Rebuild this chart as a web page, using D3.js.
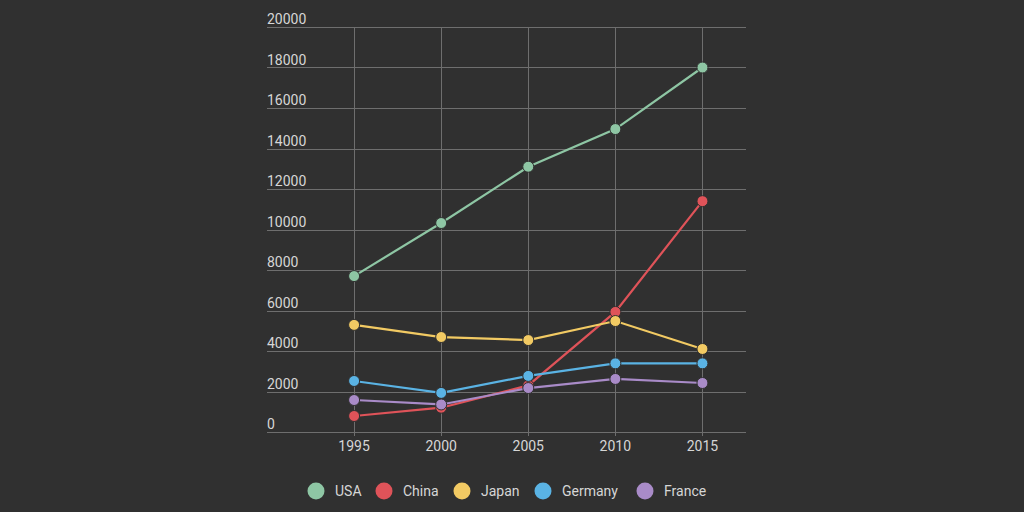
<!DOCTYPE html>
<html><head><meta charset="utf-8">
<script src="https://cdn.jsdelivr.net/npm/d3@7"></script>
<style>
html,body{margin:0;padding:0;background:#303030;}
svg{display:block;font-family:Roboto,"Noto Sans",sans-serif;}
</style></head>
<body><svg id="c" width="1024" height="512"></svg>
<script>
const years = [1995, 2000, 2005, 2010, 2015];
const seriesNames = ["USA", "China", "Japan", "Germany", "France"];
const usa = [7700, 10320, 13100, 14960, 18000];
const china = [790, 1200, 2300, 5930, 11400];
const japan = [5290, 4690, 4540, 5480, 4100];
const germany = [2520, 1930, 2770, 3390, 3390];
const france = [1580, 1360, 2170, 2620, 2420];
const yTicks = [0, 2000, 4000, 6000, 8000, 10000, 12000, 14000, 16000, 18000, 20000];
const colors = ["#8ec6a4", "#df5359", "#f2ca63", "#5ab3e4", "#a98bc8"];

(function () {
const values = [usa, china, japan, germany, france];
const svg = d3.select("#c");
const W = 1024, H = 512;
svg.append("rect").attr("width", W).attr("height", H).attr("fill", "#303030");

const pLeft = 267, pRight = 746, pTop = 27, pBottom = 432;
const x = d3.scaleLinear().domain([1990, 2017.5]).range([pLeft, pRight]);
const y = d3.scaleLinear().domain([0, 20000]).range([pBottom, pTop]);

const grid = svg.append("g");
grid.selectAll("line.h").data(yTicks).enter().append("line")
  .attr("x1", pLeft).attr("x2", pRight)
  .attr("y1", d => Math.round(y(d)) + 0.5).attr("y2", d => Math.round(y(d)) + 0.5)
  .attr("stroke", "#6e6e6e").attr("stroke-width", 1);
grid.selectAll("line.v").data(years).enter().append("line")
  .attr("x1", d => Math.round(x(d)) + 0.5).attr("x2", d => Math.round(x(d)) + 0.5)
  .attr("y1", pTop).attr("y2", pBottom + 4)
  .attr("stroke", "#6e6e6e").attr("stroke-width", 1);

svg.append("g").selectAll("text").data(yTicks).enter().append("text")
  .attr("x", pLeft).attr("y", d => y(d) - 3)
  .attr("fill", "#d6d6d6").attr("font-size", 14)
  .text(d => d);

svg.append("g").selectAll("text").data(years).enter().append("text")
  .attr("x", d => x(d)).attr("y", 451)
  .attr("text-anchor", "middle")
  .attr("fill", "#d6d6d6").attr("font-size", 14)
  .text(d => d);

const line = d3.line().x((d, i) => x(years[i])).y(d => y(d));
values.forEach((vals, si) => {
  const g = svg.append("g");
  g.append("path").attr("d", line(vals)).attr("fill", "none")
    .attr("stroke", colors[si]).attr("stroke-width", 2.2);
  g.selectAll("circle").data(vals).enter().append("circle")
    .attr("cx", (d, i) => x(years[i])).attr("cy", d => y(d))
    .attr("r", 5.5).attr("fill", colors[si])
    .attr("stroke", "#303030").attr("stroke-width", 1);
});

const legendX = [316, 384, 462, 543, 645];
const lg = svg.append("g");
seriesNames.forEach((n, i) => {
  lg.append("circle").attr("cx", legendX[i]).attr("cy", 491).attr("r", 8.5).attr("fill", colors[i]);
  lg.append("text").attr("x", legendX[i] + 19).attr("y", 496)
    .attr("fill", "#d6d6d6").attr("font-size", 14).text(n);
});
})();
</script></body></html>
